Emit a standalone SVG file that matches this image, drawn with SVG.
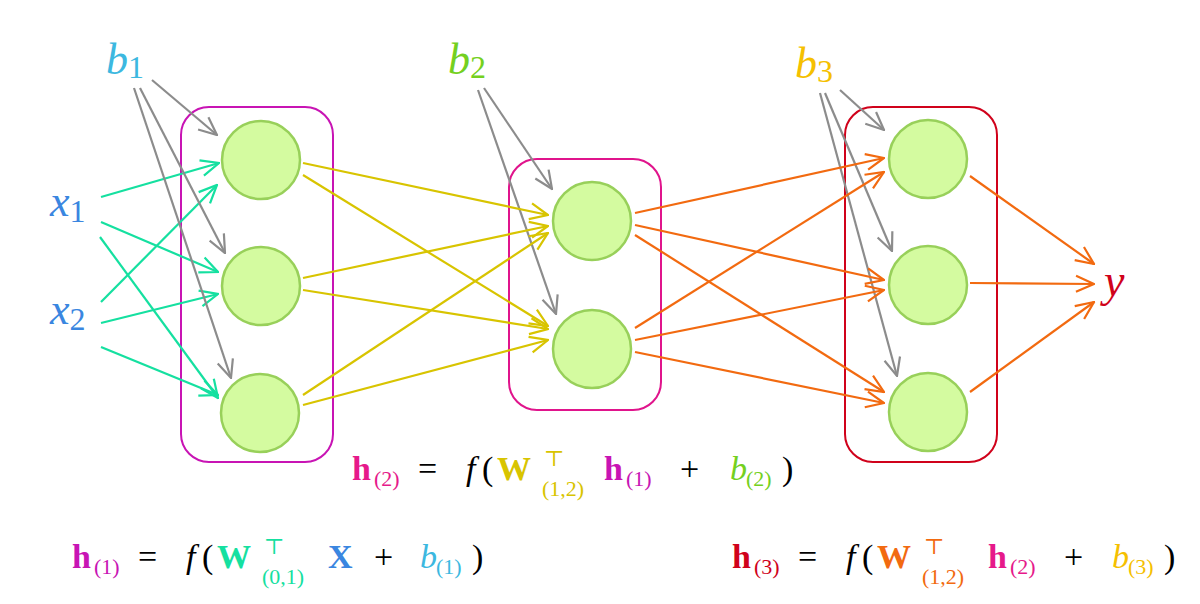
<svg xmlns="http://www.w3.org/2000/svg" width="1200" height="604" viewBox="0 0 1200 604">
<style>
.n{fill:#d4fba0;stroke:#98d05a;stroke-width:2.5}
.box{fill:none;stroke-width:2}
line{stroke-width:2.2;fill:none}
.g{stroke:#15e0a0}.gr{stroke:#8c8c8c}.y{stroke:#d8c400}.o{stroke:#f26a10}
text{font-family:"Liberation Serif","DejaVu Serif",serif}
.it{font-style:italic}
.b{font-weight:bold}
.s{font-size:22px}
</style>
<defs>
<marker id="mg" viewBox="0 0 20 20" refX="19" refY="10" markerWidth="20" markerHeight="20" markerUnits="userSpaceOnUse" orient="auto"><path d="M1,2 L19,10 L1,18" fill="none" stroke="#15e0a0" stroke-width="2.2"/></marker>
<marker id="mgr" viewBox="0 0 20 20" refX="19" refY="10" markerWidth="20" markerHeight="20" markerUnits="userSpaceOnUse" orient="auto"><path d="M1,2 L19,10 L1,18" fill="none" stroke="#8c8c8c" stroke-width="2.2"/></marker>
<marker id="my" viewBox="0 0 20 20" refX="19" refY="10" markerWidth="20" markerHeight="20" markerUnits="userSpaceOnUse" orient="auto"><path d="M1,2 L19,10 L1,18" fill="none" stroke="#d8c400" stroke-width="2.2"/></marker>
<marker id="mo" viewBox="0 0 20 20" refX="19" refY="10" markerWidth="20" markerHeight="20" markerUnits="userSpaceOnUse" orient="auto"><path d="M1,2 L19,10 L1,18" fill="none" stroke="#f26a10" stroke-width="2.2"/></marker>
</defs>
<rect class="box" x="181" y="107" width="152" height="355" rx="28" stroke="#c814b4"/>
<rect class="box" x="509" y="159" width="152" height="251" rx="28" stroke="#e0148c"/>
<rect class="box" x="845" y="107" width="152" height="355" rx="28" stroke="#d0021b"/>
<g id="l1n1"><circle class="n" cx="261" cy="160" r="39"/></g>
<g id="l1n2"><circle class="n" cx="261" cy="286" r="39"/></g>
<g id="l1n3"><circle class="n" cx="260" cy="413" r="39"/></g>
<g id="l2n1"><circle class="n" cx="592" cy="221" r="39"/></g>
<g id="l2n2"><circle class="n" cx="592" cy="349" r="39"/></g>
<g id="l3n1"><circle class="n" cx="928" cy="159" r="39"/></g>
<g id="l3n2"><circle class="n" cx="928" cy="285" r="39"/></g>
<g id="l3n3"><circle class="n" cx="928" cy="412" r="39"/></g>
<g id="connectors">
<g class="g" marker-end="url(#mg)">
<line x1="101" y1="197" x2="219" y2="163"/><line x1="101" y1="222" x2="218" y2="272"/><line x1="100" y1="237" x2="218" y2="398"/>
<line x1="101" y1="302" x2="217" y2="185"/><line x1="101" y1="323" x2="218" y2="294"/><line x1="101" y1="347" x2="218" y2="395"/>
</g>
<g class="gr" marker-end="url(#mgr)">
<line x1="152" y1="80" x2="217" y2="135"/><line x1="140" y1="88" x2="225" y2="253"/><line x1="134" y1="88" x2="231" y2="378"/>
<line x1="484" y1="88" x2="552" y2="189"/><line x1="478" y1="90" x2="556" y2="314"/>
<line x1="840" y1="90" x2="884" y2="130"/><line x1="825" y1="93" x2="892" y2="251"/><line x1="820" y1="93" x2="897" y2="376"/>
</g>
<g class="y" marker-end="url(#my)">
<line x1="303" y1="163" x2="548" y2="215"/><line x1="303" y1="175" x2="548" y2="326"/><line x1="303" y1="278" x2="548" y2="226"/>
<line x1="303" y1="290" x2="548" y2="329"/><line x1="303" y1="395" x2="548" y2="233"/><line x1="303" y1="405" x2="548" y2="340"/>
</g>
<g class="o" marker-end="url(#mo)">
<line x1="635" y1="213" x2="884" y2="158"/><line x1="635" y1="225" x2="884" y2="280"/><line x1="635" y1="235" x2="884" y2="392"/>
<line x1="635" y1="328" x2="884" y2="172"/><line x1="635" y1="340" x2="884" y2="290"/><line x1="635" y1="352" x2="884" y2="403"/>
<line x1="970" y1="176" x2="1094" y2="264"/><line x1="970" y1="283" x2="1094" y2="284"/><line x1="970" y1="392" x2="1094" y2="302"/>
</g>
</g>
<g id="labels" font-size="44">
<text x="106" y="74" fill="#3cb8e0"><tspan class="it">b</tspan><tspan font-size="32" dy="4">1</tspan></text>
<text x="448" y="74" fill="#74d020"><tspan class="it">b</tspan><tspan font-size="32" dy="4">2</tspan></text>
<text x="795" y="78" fill="#f5c000"><tspan class="it">b</tspan><tspan font-size="32" dy="4">3</tspan></text>
<text x="50" y="216" fill="#3a86e0"><tspan class="it">x</tspan><tspan font-size="32" dy="6">1</tspan></text>
<text x="50" y="324" fill="#3a86e0"><tspan class="it">x</tspan><tspan font-size="32" dy="6">2</tspan></text>
<text x="1104" y="296" fill="#d0021b" class="it" font-size="46">y</text>
</g>
<g id="eqs" font-size="34">
<text y="480"><tspan x="352" fill="#e6198a" class="b">h</tspan><tspan x="374" class="s" fill="#e6198a" dy="6">(2)</tspan><tspan x="418" dy="-6">=</tspan><tspan x="466" class="it">f</tspan><tspan x="482">(</tspan><tspan x="497" fill="#d8c400" class="b">W</tspan><tspan x="544" class="s" fill="#d8c400" dy="-14">⊤</tspan><tspan x="542" class="s" fill="#d8c400" dy="30">(1,2)</tspan><tspan x="604" fill="#c814b4" class="b" dy="-16">h</tspan><tspan x="626" class="s" fill="#c814b4" dy="6">(1)</tspan><tspan x="680" dy="-6">+</tspan><tspan x="730" fill="#74d020" class="it">b</tspan><tspan x="746" class="s" fill="#74d020" dy="6">(2)</tspan><tspan x="782" dy="-6">)</tspan></text>
<text y="568"><tspan x="72" fill="#c814b4" class="b">h</tspan><tspan x="94" class="s" fill="#c814b4" dy="6">(1)</tspan><tspan x="138" dy="-6">=</tspan><tspan x="186" class="it">f</tspan><tspan x="202">(</tspan><tspan x="217" fill="#15e0a0" class="b">W</tspan><tspan x="264" class="s" fill="#15e0a0" dy="-14">⊤</tspan><tspan x="262" class="s" fill="#15e0a0" dy="30">(0,1)</tspan><tspan x="328" fill="#3a86e0" class="b" dy="-16">X</tspan><tspan x="374">+</tspan><tspan x="420" fill="#3cb8e0" class="it">b</tspan><tspan x="436" class="s" fill="#3cb8e0" dy="6">(1)</tspan><tspan x="472" dy="-6">)</tspan></text>
<text y="568"><tspan x="732" fill="#d0021b" class="b">h</tspan><tspan x="754" class="s" fill="#d0021b" dy="6">(3)</tspan><tspan x="798" dy="-6">=</tspan><tspan x="846" class="it">f</tspan><tspan x="862">(</tspan><tspan x="877" fill="#f26a10" class="b">W</tspan><tspan x="924" class="s" fill="#f26a10" dy="-14">⊤</tspan><tspan x="922" class="s" fill="#f26a10" dy="30">(1,2)</tspan><tspan x="988" fill="#e6198a" class="b" dy="-16">h</tspan><tspan x="1010" class="s" fill="#e6198a" dy="6">(2)</tspan><tspan x="1064" dy="-6">+</tspan><tspan x="1112" fill="#f5c000" class="it">b</tspan><tspan x="1128" class="s" fill="#f5c000" dy="6">(3)</tspan><tspan x="1164" dy="-6">)</tspan></text>
</g>
</svg>
